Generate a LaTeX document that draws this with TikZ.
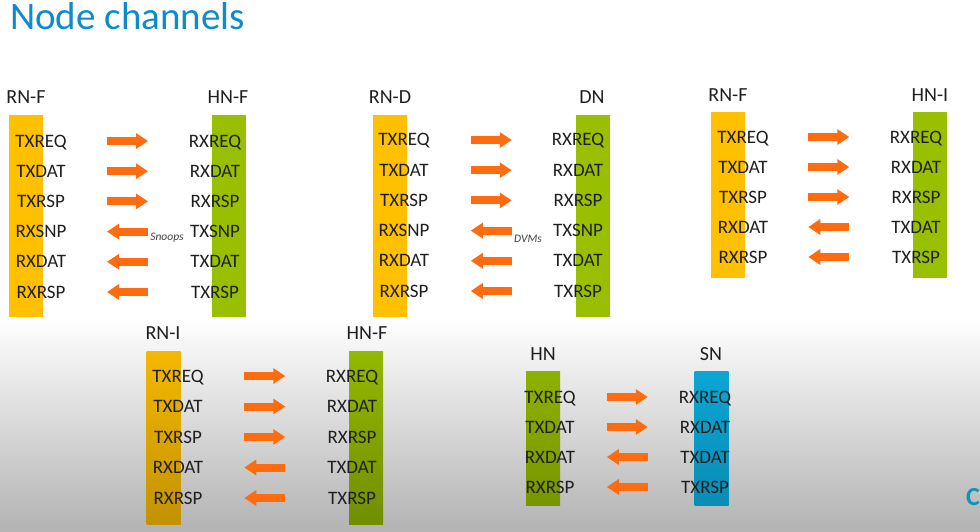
\documentclass[tikz,border=0pt]{standalone}
\usepackage{fontspec}
\setmainfont{Carlito}
\usetikzlibrary{arrows.meta, positioning, calc}
\definecolor{ChanOrange}{HTML}{FFC000}
\definecolor{ChanGreen}{HTML}{99C000}
\definecolor{ChanBlue}{HTML}{0CB0E2}
\definecolor{ChanArrow}{HTML}{FF6C10}
\definecolor{ChanTitle}{HTML}{0E8BC9}

\begin{document}
\begin{tikzpicture}[
    x=1pt, y=-1pt,
    bar/.style={rectangle, minimum width=34pt, inner sep=0pt, draw=none},
    nodename/.style={font=\fontsize{20}{22}\selectfont, text=black!88, inner sep=0pt,
      text height=13pt, text depth=0pt},
    chan/.style={font=\fontsize{19}{21}\selectfont, text=black!88, inner sep=0pt,
      text height=12pt, text depth=0pt},
    fwd/.style={ChanArrow, line width=8pt, -{Triangle[length=12pt, width=15pt]}},
    bwd/.style={ChanArrow, line width=8pt, {Triangle[length=12pt, width=15pt]}-},
    note/.style={font=\fontsize{11.5}{13}\selectfont\itshape, text=black!75, inner sep=0pt},
    title/.style={font=\fontsize{39}{43}\selectfont, text=ChanTitle, inner sep=0pt}
  ]
    \useasboundingbox (0,0) rectangle (980,532);
    \shade[top color=white, bottom color=black!30] (0,318) rectangle (980,532);

    \node[title, anchor=base west] (title) at (10,29.5) {Node channels};

    % RN-F to HN-F
    \node[bar, fill=ChanOrange, minimum height=202pt] (g1l) at (26,216) {};
    \node[bar, fill=ChanGreen, minimum height=202pt] (g1r) at (229,216) {};
    \node[nodename] (g1lt) at (26,97) {RN-F};
    \node[nodename] (g1rt) at (228,97) {HN-F};
    \foreach \i/\a/\b/\d in {0/TXREQ/RXREQ/fwd, 1/TXDAT/RXDAT/fwd, 2/TXRSP/RXRSP/fwd,
        3/RXSNP/TXSNP/bwd, 4/RXDAT/TXDAT/bwd, 5/RXRSP/TXRSP/bwd} {
      \node[chan] (g1a\i) at (41,{141+30.2*\i}) {\a};
      \node[chan] (g1b\i) at (215,{141+30.2*\i}) {\b};
      \coordinate (g1m\i) at ($(g1l.east |- g1a\i)!.5!(g1r.west |- g1a\i)$);
      \draw[\d] ($(g1m\i)+(-20.5,0)$) -- ($(g1m\i)+(20.5,0)$);
    }
    \node[note] (snoops) at (167,238) {Snoops};

    % RN-D to DN
    \node[bar, fill=ChanOrange, minimum height=202pt] (g2l) at (389.5,216) {};
    \node[bar, fill=ChanGreen, minimum height=202pt] (g2r) at (593,216) {};
    \node[nodename] (g2lt) at (390,97) {RN-D};
    \node[nodename] (g2rt) at (592,97) {DN};
    \foreach \i/\a/\b/\d in {0/TXREQ/RXREQ/fwd, 1/TXDAT/RXDAT/fwd, 2/TXRSP/RXRSP/fwd,
        3/RXSNP/TXSNP/bwd, 4/RXDAT/TXDAT/bwd, 5/RXRSP/TXRSP/bwd} {
      \node[chan] (g2a\i) at (404,{140+30.2*\i}) {\a};
      \node[chan] (g2b\i) at (578,{140+30.2*\i}) {\b};
      \coordinate (g2m\i) at ($(g2l.east |- g2a\i)!.5!(g2r.west |- g2a\i)$);
      \draw[\d] ($(g2m\i)+(-20.5,0)$) -- ($(g2m\i)+(20.5,0)$);
    }
    \node[note] (dvms) at (528,239) {DVMs};

    % RN-F to HN-I
    \node[bar, fill=ChanOrange, minimum height=166pt] (g3l) at (727.5,195) {};
    \node[bar, fill=ChanGreen, minimum height=166pt] (g3r) at (930,195) {};
    \node[nodename] (g3lt) at (728,95) {RN-F};
    \node[nodename] (g3rt) at (930,95) {HN-I};
    \foreach \i/\a/\b/\d in {0/TXREQ/RXREQ/fwd, 1/TXDAT/RXDAT/fwd, 2/TXRSP/RXRSP/fwd,
        3/RXDAT/TXDAT/bwd, 4/RXRSP/TXRSP/bwd} {
      \node[chan] (g3a\i) at (743,{137+30*\i}) {\a};
      \node[chan] (g3b\i) at (916,{137+30*\i}) {\b};
      \coordinate (g3m\i) at ($(g3l.east |- g3a\i)!.5!(g3r.west |- g3a\i)$);
      \draw[\d] ($(g3m\i)+(-20.5,0)$) -- ($(g3m\i)+(20.5,0)$);
    }

    % RN-I to HN-F
    \node[bar, top color=ChanOrange!96!black, bottom color=ChanOrange!76!black,
      minimum height=173pt] (g4l) at (163.5,437.5) {};
    \node[bar, top color=ChanGreen!96!black, bottom color=ChanGreen!74!black,
      minimum height=173pt] (g4r) at (366,437.5) {};
    \node[nodename] (g4lt) at (163,333) {RN-I};
    \node[nodename] (g4rt) at (367,333) {HN-F};
    \foreach \i/\a/\b/\d in {0/TXREQ/RXREQ/fwd, 1/TXDAT/RXDAT/fwd, 2/TXRSP/RXRSP/fwd,
        3/RXDAT/TXDAT/bwd, 4/RXRSP/TXRSP/bwd} {
      \node[chan] (g4a\i) at (178,{376+30.5*\i}) {\a};
      \node[chan] (g4b\i) at (352,{376+30.5*\i}) {\b};
      \coordinate (g4m\i) at ($(g4l.east |- g4a\i)!.5!(g4r.west |- g4a\i)$);
      \draw[\d] ($(g4m\i)+(-20.5,0)$) -- ($(g4m\i)+(20.5,0)$);
    }

    % HN to SN
    \node[bar, top color=ChanGreen!92!black, bottom color=ChanGreen!78!black,
      minimum height=134pt] (g5l) at (543,438) {};
    \node[bar, top color=ChanBlue!94!black, bottom color=ChanBlue!80!black,
      minimum height=134pt] (g5r) at (711.5,438) {};
    \node[nodename] (g5lt) at (543,354) {HN};
    \node[nodename] (g5rt) at (711,354) {SN};
    \foreach \i/\a/\b/\d in {0/TXREQ/RXREQ/fwd, 1/TXDAT/RXDAT/fwd,
        2/RXDAT/TXDAT/bwd, 3/RXRSP/TXRSP/bwd} {
      \node[chan] (g5a\i) at (550,{397+30*\i}) {\a};
      \node[chan] (g5b\i) at (705,{397+30*\i}) {\b};
      \coordinate (g5m\i) at ($(g5l.east |- g5a\i)!.5!(g5r.west |- g5a\i)$);
      \draw[\d] ($(g5m\i)+(-20.5,0)$) -- ($(g5m\i)+(20.5,0)$);
    }

    \node[font=\fontsize{26}{28}\selectfont\bfseries, text=ChanBlue!85!black, inner sep=0pt,
      anchor=base west] (logo) at (966,505) {C};
  \end{tikzpicture}
\end{document}
